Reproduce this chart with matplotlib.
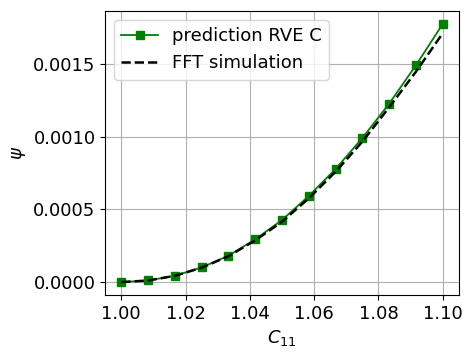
import numpy as np
import matplotlib
matplotlib.use("Agg")
import matplotlib.pyplot as plt

# stretch values C11 (13 load steps)
c11 = np.array([1.0, 1.00833, 1.01667, 1.025, 1.03333, 1.04167, 1.05,
                1.05833, 1.06667, 1.075, 1.08333, 1.09167, 1.1])
psi_pred = np.array([0.0, 0.000011, 0.0000436, 0.000101, 0.000181, 0.000294,
                     0.000427, 0.000592, 0.000778, 0.000991, 0.001227,
                     0.001491, 0.001775])
psi_fft = np.array([0.0, 0.000011, 0.0000430, 0.000099, 0.000178, 0.000287,
                    0.000415, 0.000576, 0.000759, 0.000966, 0.001202,
                    0.001447, 0.001711])

plt.rcParams['font.size'] = 13

fig = plt.figure(figsize=(4.74, 3.55), dpi=100)
ax = fig.add_axes([0.222, 0.169, 0.746, 0.8])

ax.plot(c11, psi_pred, '-s', color='green', lw=1.3, ms=5.5,
        label='prediction RVE C')
ax.plot(c11, psi_fft, '--', color='black', lw=1.8, label='FFT simulation')

ax.set_xlabel('$C_{11}$')
ax.set_ylabel(r'$\psi$')
ax.set_xticks([1.00, 1.02, 1.04, 1.06, 1.08, 1.10])
ax.set_yticks([0.0, 0.0005, 0.0010, 0.0015])
ax.set_yticklabels(['0.0000', '0.0005', '0.0010', '0.0015'])
ax.grid(True)
ax.legend(loc='upper left')

fig.savefig('out.png', dpi=100)
